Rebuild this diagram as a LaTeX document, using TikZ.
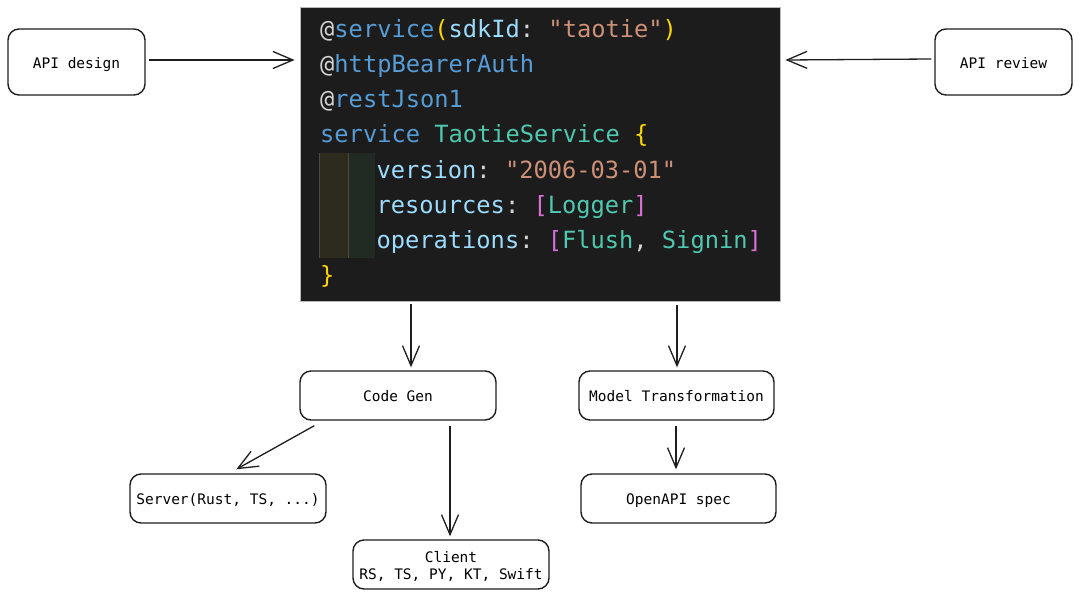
\documentclass[tikz,border=0pt]{standalone}
\usepackage{fontspec}
\usetikzlibrary{arrows.meta}
\newfontfamily\codefont{DejaVu Sans Mono}
\definecolor{codebg}{HTML}{1C1C1C}
\definecolor{ckw}{HTML}{569CD6}
\definecolor{cprop}{HTML}{9CDCFE}
\definecolor{cstr}{HTML}{CE9178}
\definecolor{cyel}{HTML}{FFD700}
\definecolor{ctype}{HTML}{4EC9B0}
\definecolor{cpink}{HTML}{DA70D6}
\definecolor{cpunc}{HTML}{D4D4D4}
\definecolor{guideA}{HTML}{2C2B1E}
\definecolor{guideB}{HTML}{212A23}
\definecolor{guideL}{HTML}{4A4A3E}
\definecolor{ink}{HTML}{1E1E1E}
\tikzset{
  box/.style={draw=ink, line width=1.4pt, rounded corners=11pt, fill=white,
    font=\codefont\fontsize{14.5}{17}\selectfont\frenchspacing, align=center, inner sep=2pt,
    text height=13pt, text depth=0.4pt},
  arr/.style={draw=ink, line width=1.3pt, -{Straight Barb[length=20pt,width=17pt,line width=1.3pt]}},
  codeline/.style={anchor=base west, inner sep=0pt, font=\codefont\fontsize{23.7}{28}\selectfont\frenchspacing, text=cpunc}
}
\begin{document}
\begin{tikzpicture}[x=1pt,y=-1pt]
\useasboundingbox (0,0) rectangle (1080,597);
\fill[white] (0,0) rectangle (1080,597);

% code block
\node[draw=gray!55, line width=0.8pt, fill=codebg, minimum width=480pt, minimum height=294pt, inner sep=0pt] (code) at (540,154) {};
\fill[guideA] (319,153) rectangle (348,258);
\fill[guideB] (348,153) rectangle (375,258);
\draw[guideL, line width=0.7pt] (319.5,153) -- (319.5,258);
\draw[guideL, line width=0.7pt] (348,153) -- (348,258);

\node[codeline] (l1) at (320,37.5) {@\textcolor{ckw}{service}\textcolor{cyel}{(}\textcolor{cprop}{sdkId}: \textcolor{cstr}{"taotie"}\textcolor{cyel}{)}};
\node[codeline] (l2) at (320,72.5) {@\textcolor{ckw}{httpBearerAuth}};
\node[codeline] (l3) at (320,107.5) {@\textcolor{ckw}{restJson1}};
\node[codeline] (l4) at (320,142.5) {\textcolor{ckw}{service} \textcolor{ctype}{TaotieService} \textcolor{cyel}{\{}};
\node[codeline] (l5) at (376.4,178) {\textcolor{cprop}{version}: \textcolor{cstr}{"2006-03-01"}};
\node[codeline] (l6) at (376.4,213) {\textcolor{cprop}{resources}: \textcolor{cpink}{[}\textcolor{ctype}{Logger}\textcolor{cpink}{]}};
\node[codeline] (l7) at (376.4,248) {\textcolor{cprop}{operations}: \textcolor{cpink}{[}\textcolor{ctype}{Flush}, \textcolor{ctype}{Signin}\textcolor{cpink}{]}};
\node[codeline] (l8) at (320,283) {\textcolor{cyel}{\}}};

% boxes
\node[box, minimum width=137pt, minimum height=66pt] (apid) at (76.5,62) {API design};
\node[box, minimum width=137pt, minimum height=66pt] (apir) at (1003.5,62) {API review};
\node[box, minimum width=196pt, minimum height=49pt] (cg) at (398,395.5) {Code Gen};
\node[box, minimum width=195pt, minimum height=49pt] (mt) at (676.5,395.5) {Model Transformation};
\node[box, minimum width=196pt, minimum height=49pt] (srv) at (228,498.5) {Server(Rust, TS, ...)};
\node[box, minimum width=196pt, minimum height=49pt, text height=30.6pt, text depth=1pt] (cli) at (451,564.5) {Client\\RS, TS, PY, KT, Swift};
\node[box, minimum width=195pt, minimum height=49pt] (oas) at (678.5,498.5) {OpenAPI spec};

% connectors
\draw[arr] ([xshift=3pt,yshift=2pt]apid.east) -- ([xshift=-5pt,yshift=2pt]code.west |- apid.east);
\draw[arr] ([xshift=-3pt,yshift=3pt]apir.west) -- ([xshift=5pt,yshift=2pt]code.east |- apir.west);
\draw[arr] ([xshift=-129pt,yshift=-3pt]code.south) -- ([xshift=13pt,yshift=3pt]cg.north);
\draw[arr] ([xshift=137pt,yshift=-4pt]code.south) -- ([xshift=0.5pt,yshift=3pt]mt.north);
\draw[arr] ([xshift=15pt,yshift=-5pt]cg.south west) -- ([xshift=107pt,yshift=4pt]srv.north west);
\draw[arr] ([xshift=52pt,yshift=-5pt]cg.south) -- ([xshift=-1pt,yshift=3pt]cli.north);
\draw[arr] ([xshift=-0.5pt,yshift=-5pt]mt.south) -- ([xshift=-2.5pt,yshift=4pt]oas.north);
\end{tikzpicture}
\end{document}
